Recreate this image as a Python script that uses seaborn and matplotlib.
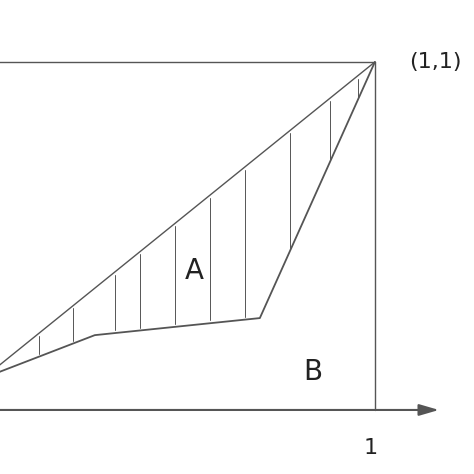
import matplotlib
matplotlib.use("Agg")
import matplotlib.pyplot as plt
import seaborn as sns
import numpy as np
import pandas as pd

lorenz_x = [0.0, 0.13, 0.35, 0.733, 1.0]
lorenz_y = [0.0, 0.11, 0.215, 0.264, 1.0]
hatch_x = [0.22, 0.30, 0.397, 0.455, 0.536, 0.617, 0.698, 0.803, 0.896, 0.96]

sns.set_style("white")
fig = plt.figure(figsize=(4.74, 4.74), dpi=100)
ax = fig.add_axes([0, 0, 1, 1])
ax.set_xlim(0.13, 1.23)
ax.set_ylim(-0.184, 1.178)
ax.axis("off")
c = "#555555"
df = pd.DataFrame({"x": lorenz_x, "y": lorenz_y})
sns.lineplot(x=[0, 1], y=[0, 1], ax=ax, color=c, lw=1)
sns.lineplot(data=df, x="x", y="y", ax=ax, color=c, lw=1.3, sort=False)
ax.plot([0, 1], [1, 1], color=c, lw=1)
ax.plot([1, 1], [0, 1], color=c, lw=1)
ax.annotate("", xy=(1.155, 0), xytext=(0, 0),
            arrowprops=dict(arrowstyle="-|>,head_width=0.35,head_length=1.2", color=c, lw=1.5))
for hx in hatch_x:
    ly = np.interp(hx, lorenz_x, lorenz_y)
    ax.plot([hx, hx], [ly + 0.008, hx - 0.008], color=c, lw=0.7)
ax.text(0.582, 0.40, "A", fontsize=20, ha="center", va="center", color="#222222")
ax.text(0.856, 0.11, "B", fontsize=20, ha="center", va="center", color="#222222")
ax.text(1.08, 1.0, "(1,1)", fontsize=16, ha="left", va="center", color="#222222")
ax.text(0.99, -0.11, "1", fontsize=16, ha="center", va="center", color="#222222")
fig.savefig("out.png", dpi=100)
